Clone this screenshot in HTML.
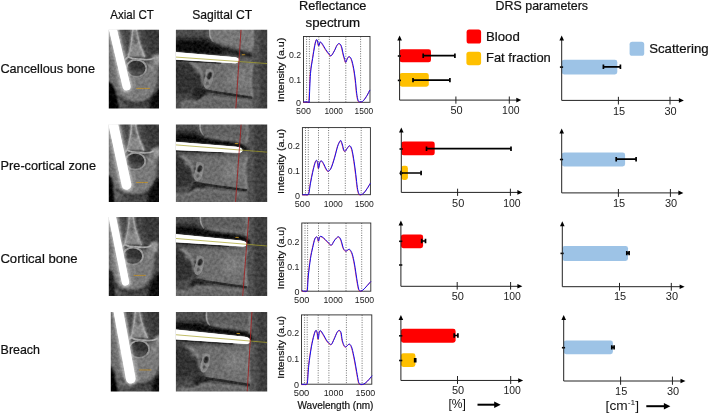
<!DOCTYPE html>
<html lang="en"><head><meta charset="utf-8"><title>DRS parameters figure</title>
<style>
html,body{margin:0;padding:0;background:#fff;}
body{width:709px;height:413px;overflow:hidden;}
svg text{font-family:"Liberation Sans", sans-serif;}
</style></head><body>
<svg width="709" height="413" viewBox="0 0 709 413" style="display:block">

<defs>
<filter id="b05" filterUnits="userSpaceOnUse" x="-40" y="-40" width="180" height="170"><feGaussianBlur stdDeviation="0.5"/></filter>
<filter id="b07" filterUnits="userSpaceOnUse" x="-40" y="-40" width="180" height="170"><feGaussianBlur stdDeviation="0.7"/></filter>
<filter id="b1" filterUnits="userSpaceOnUse" x="-40" y="-40" width="180" height="170"><feGaussianBlur stdDeviation="1"/></filter>
<filter id="b2" filterUnits="userSpaceOnUse" x="-40" y="-40" width="180" height="170"><feGaussianBlur stdDeviation="2"/></filter>
<filter id="b3" filterUnits="userSpaceOnUse" x="-40" y="-40" width="180" height="170"><feGaussianBlur stdDeviation="3.2"/></filter>
<filter id="b5" filterUnits="userSpaceOnUse" x="-40" y="-40" width="180" height="170"><feGaussianBlur stdDeviation="5"/></filter>
<filter id="grain" x="0" y="0" width="100%" height="100%" color-interpolation-filters="sRGB">
  <feTurbulence type="fractalNoise" baseFrequency="0.33" numOctaves="2" seed="7" result="n"/>
  <feColorMatrix in="n" type="matrix" values="1 0 0 0 0  1 0 0 0 0  1 0 0 0 0  0 0 0 0 1" result="ng"/>
  <feComposite in="SourceGraphic" in2="ng" operator="arithmetic" k1="0" k2="1" k3="0.22" k4="-0.11"/>
</filter>
</defs>

<rect width="709" height="413" fill="#ffffff"/>
<text x="0.4" y="73" font-size="13" text-anchor="start" fill="#111" textLength="94.6" lengthAdjust="spacingAndGlyphs" stroke="#111" stroke-width="0.22">Cancellous bone</text>
<text x="0.6" y="169.8" font-size="13" text-anchor="start" fill="#111" textLength="95.4" lengthAdjust="spacingAndGlyphs" stroke="#111" stroke-width="0.22">Pre-cortical zone</text>
<text x="0.4" y="262.5" font-size="13" text-anchor="start" fill="#111" textLength="77.2" lengthAdjust="spacingAndGlyphs" stroke="#111" stroke-width="0.22">Cortical bone</text>
<text x="0.6" y="353.7" font-size="13" text-anchor="start" fill="#111" textLength="39.4" lengthAdjust="spacingAndGlyphs" stroke="#111" stroke-width="0.22">Breach</text>
<text x="110.3" y="18.8" font-size="13" text-anchor="start" fill="#111" textLength="43.5" lengthAdjust="spacingAndGlyphs" stroke="#111" stroke-width="0.22">Axial CT</text>
<text x="192.2" y="18.8" font-size="13" text-anchor="start" fill="#111" textLength="60" lengthAdjust="spacingAndGlyphs" stroke="#111" stroke-width="0.22">Sagittal CT</text>
<text x="299.0" y="10.3" font-size="13" text-anchor="start" fill="#111" textLength="67.4" lengthAdjust="spacingAndGlyphs" stroke="#111" stroke-width="0.22">Reflectance</text>
<text x="305.5" y="27.3" font-size="13" text-anchor="start" fill="#111" textLength="54.6" lengthAdjust="spacingAndGlyphs" stroke="#111" stroke-width="0.22">spectrum</text>
<text x="495.6" y="10.3" font-size="13" text-anchor="start" fill="#111" textLength="92.4" lengthAdjust="spacingAndGlyphs" stroke="#111" stroke-width="0.22">DRS parameters</text>
<rect x="466.6" y="29.6" width="14.5" height="14" rx="2.6" fill="#ff0000"/>
<rect x="466.4" y="51.8" width="14.7" height="13.4" rx="2.6" fill="#ffc000"/>
<rect x="629.6" y="41.7" width="14.6" height="14.1" rx="2.6" fill="#9dc3e6"/>
<text x="486.0" y="40.5" font-size="13" text-anchor="start" fill="#111" textLength="33.8" lengthAdjust="spacingAndGlyphs" stroke="#111" stroke-width="0.22">Blood</text>
<text x="486.0" y="62.3" font-size="13" text-anchor="start" fill="#111" textLength="64.8" lengthAdjust="spacingAndGlyphs" stroke="#111" stroke-width="0.22">Fat fraction</text>
<text x="649.2" y="53.1" font-size="13" text-anchor="start" fill="#111" textLength="59.4" lengthAdjust="spacingAndGlyphs" stroke="#111" stroke-width="0.22">Scattering</text>
<text x="448.4" y="408.3" font-size="13" text-anchor="start" fill="#111" textLength="17.4" lengthAdjust="spacingAndGlyphs" >[%]</text>
<text x="605.6" y="409.6" font-size="13" text-anchor="start" fill="#111" textLength="33.4" lengthAdjust="spacingAndGlyphs" >[cm<tspan font-size="8" dy="-4.5">-1</tspan><tspan dy="4.5">]</tspan></text>
<path d="M477.5 404.7 H495.7" stroke="#000" stroke-width="2" fill="none"/><path d="M500.7 404.7 L494.2 401.5 L494.2 407.9Z" fill="#000"/>
<path d="M646.3 406.2 H665.4" stroke="#000" stroke-width="2" fill="none"/><path d="M670.4 406.2 L663.9 403.0 L663.9 409.4Z" fill="#000"/>
<svg x="108.8" y="29.7" width="50.2" height="78.9" viewBox="0 0 50 79" preserveAspectRatio="none" overflow="hidden">
<g filter="url(#grain)">
<rect x="-5" y="-5" width="60" height="89" fill="#484848"/>
<g transform="translate(0 0)">
<path d="M34 -6 L58 -6 L58 23 L42 25Z" fill="#383838" filter="url(#b2)"/>
<path d="M-6 50 L56 50 L56 86 L-6 86Z" fill="#464646" filter="url(#b2)"/>
<path d="M-6 16 L5 14 L14 60 L19 74 L9 78 L-6 56Z" fill="#6c6c6c" filter="url(#b2)"/>
<path d="M7 36 C6 58 12 72 28 72.5 C42 72 49 60 49 40 L52 24 L44 26 L40 34 C38 50 18 50 16 36Z" fill="#7a7a7a" filter="url(#b1)"/>
<path d="M9 66 C15 78 41 78 47.5 63" stroke="#343434" stroke-width="3.2" fill="none" filter="url(#b1)"/>
<path d="M45 26 L52 24 L52 34 L46 34Z" fill="#9a9a9a" filter="url(#b1)"/>
<path d="M24.5 -3 L20 26 L35.5 27 L27 -3Z" fill="#626262" filter="url(#b05)"/>
<path d="M22.5 14 L31 14 L36 27 L19.5 27Z" fill="#888888" filter="url(#b1)"/>
<path d="M24 -3 Q23 16 19.4 26.5 M27.2 -3 Q29.5 16 35.9 27.5" stroke="#a8a8a8" stroke-width="2.1" fill="none" filter="url(#b1)"/>
<path d="M24 -3 Q23 16 19.4 26.5 M27.2 -3 Q29.5 16 35.9 27.5" stroke="#a4a4a4" stroke-width="1.1" fill="none" filter="url(#b05)"/>
<path d="M19 27 Q24 30 31.5 29.5 Q41 31 46 28" stroke="#aaaaaa" stroke-width="1.8" fill="none" filter="url(#b07)"/>
<path d="M19.5 27 L13 33" stroke="#a8a8a8" stroke-width="1.8" fill="none" filter="url(#b05)"/>
<ellipse cx="27.4" cy="38.5" rx="10" ry="8.4" fill="#303030" stroke="#9a9a9a" stroke-width="1.8" filter="url(#b07)"/>
<ellipse cx="27.4" cy="43" rx="7" ry="3" fill="#505050" filter="url(#b1)"/>
<path d="M37 33 L45 41" stroke="#9c9c9c" stroke-width="1.4" fill="none" filter="url(#b1)"/>
</g>
<path d="M-3 51 L2.5 53.5 L6.5 61 L8.5 70 L11 82 L-3 82Z" fill="#060606" filter="url(#b1)"/>
<path d="M53 57 L43 68 L39 82 L53 82Z" fill="#0c0c0c" filter="url(#b1)"/>
<path d="M2.77 -6 L17.7 56.80" stroke="#b0b0b0" stroke-width="14.0" stroke-linecap="round" filter="url(#b2)" opacity="0.45"/>
<path d="M2.77 -6 L17.7 56.80" stroke="#c8c8c8" stroke-width="10.5" stroke-linecap="round" filter="url(#b1)" opacity="0.85"/>
<path d="M27.4 58.8 H40.9" stroke="#c08c1c" stroke-width="0.75"/>
</g>
<path d="M2.77 -6 L17.7 56.80" stroke="#fff" stroke-width="8.0" stroke-linecap="round" filter="url(#b05)"/>
<path d="M2.77 -6 L17.7 56.80" stroke="#fff" stroke-width="7.2" stroke-linecap="round"/>
</svg>
<svg x="175.9" y="29.7" width="91.3" height="78.9" viewBox="0 0 91.4 79" preserveAspectRatio="none" overflow="hidden">
<g filter="url(#grain)">
<rect x="-5" y="-5" width="101" height="89" fill="#4c4c4c"/>
<rect x="77.5" y="-6" width="40" height="92" fill="#3e3e3e" filter="url(#b1)"/>
<rect x="77.5" y="-6" width="6" height="92" fill="#565656" filter="url(#b2)"/>
<g transform="translate(0 0)">
<path d="M33.5 -8 L33.5 8 L37.5 12.5 L76 22.5 L77.5 10 L77 -8Z" fill="#787878" filter="url(#b1)"/>
<path d="M34.5 -4 Q32.2 7 37.5 12.2" stroke="#9c9c9c" stroke-width="1.5" fill="none" filter="url(#b05)"/>
<path d="M76.6 -6 L77.0 12 L76 21" stroke="#929292" stroke-width="1.8" fill="none" filter="url(#b1)"/>
<path d="M36 14.5 L76 24 L78 28.5 L64 27.5 L36 20Z" fill="#282828" filter="url(#b1)"/>
<path d="M62 26.5 L79 28 L79 36 L62 35Z" fill="#5c5c5c" filter="url(#b1)"/>
<path d="M-30 9.5 L28 9 L40 15 L48 21 L46 27 L-30 24Z" fill="#101010" filter="url(#b2)"/>
<path d="M-30 33 L16 33 L20 44 L29 46 L28 60 L10 66 L-30 66Z" fill="#303030" filter="url(#b2)"/>
<path d="M16 32 L37 32 L37 43 L29 45 L19 42Z" fill="#666666" filter="url(#b1)"/>
<path d="M13 32.5 Q22 35.5 25.5 43 L27.8 55" stroke="#949494" stroke-width="2" fill="none" filter="url(#b1)"/>
<path d="M30 32 L76.5 33 L74.2 48 L76.8 67.5 L29 60 L36 52 L34 38Z" fill="#6e6e6e" filter="url(#b1)"/>
<path d="M76.1 34 Q73.4 48 76.6 67" stroke="#969696" stroke-width="1.8" fill="none" filter="url(#b1)"/>
<ellipse cx="62" cy="49" rx="11" ry="11" fill="#808080" filter="url(#b3)" opacity="0.8"/>
<path d="M30 40 Q35 38 38 42 L37 50 Q35 58 31 59 Q27 58 27.5 52 L29.5 46Z" fill="#888888" filter="url(#b07)"/>
<ellipse cx="33.6" cy="46.1" rx="2.2" ry="3.7" fill="#2a2a2a" transform="rotate(18 33.6 46.1)" filter="url(#b05)"/>
<ellipse cx="31.5" cy="53.5" rx="1.4" ry="1.9" fill="#545454" transform="rotate(18 31.5 53.5)" filter="url(#b05)"/>
<ellipse cx="24.0" cy="64.5" rx="7.5" ry="6" fill="#222222" filter="url(#b1)"/>
<path d="M27 60.6 L76.5 68.2" stroke="#2a2a2a" stroke-width="2.4" fill="none" filter="url(#b05)"/>
<path d="M4 72 L22 72 L30 66 L77 71 L77 95 L4 95Z" fill="#666666" filter="url(#b1)"/>
<path d="M6 72 L22 72.5 L30 67 L76 71.5" stroke="#888888" stroke-width="1.4" fill="none" filter="url(#b1)"/>
</g>
<path d="M-3 30.400000000000002 L45.4 33.1" stroke="#101010" stroke-width="1.8" filter="url(#b05)" fill="none"/>
<path d="M66 25.1 h3.4" stroke="#c09020" stroke-width="0.9"/>
</g>
<path d="M-2 22.3 L59.4 27.5 Q62.9 28.1 63.4 30.3 Q62.6 33.3 59.4 33.5 L-2 29.8Z" fill="#d8d8d8" filter="url(#b1)" opacity="0.6"/>
<path d="M-2 22.3 L59.4 27.5 Q62.9 28.1 63.4 30.3 Q62.6 33.3 59.4 33.5 L-2 29.8Z" fill="#fff" filter="url(#b05)"/>
<path d="M-2 22.3 L59.4 27.5 Q62.9 28.1 63.4 30.3 Q62.6 33.3 59.4 33.5 L-2 29.8Z" fill="#fff"/>
<path d="M0 27.4 L91.5 33.9" stroke="#aaa42c" stroke-width="0.8" opacity="0.9"/>
<path d="M65.2 0 L60.0 79" stroke="#a31c1c" stroke-width="0.8"/>
</svg>
<svg x="108.8" y="124.4" width="50.2" height="77.5" viewBox="0 0 50 79" preserveAspectRatio="none" overflow="hidden">
<g filter="url(#grain)">
<rect x="-5" y="-5" width="60" height="89" fill="#484848"/>
<g transform="translate(-1 -1)">
<path d="M34 -6 L58 -6 L58 23 L42 25Z" fill="#383838" filter="url(#b2)"/>
<path d="M-6 50 L56 50 L56 86 L-6 86Z" fill="#464646" filter="url(#b2)"/>
<path d="M-6 16 L5 14 L14 60 L19 74 L9 78 L-6 56Z" fill="#6c6c6c" filter="url(#b2)"/>
<path d="M7 36 C6 58 12 72 28 72.5 C42 72 49 60 49 40 L52 24 L44 26 L40 34 C38 50 18 50 16 36Z" fill="#7a7a7a" filter="url(#b1)"/>
<path d="M9 66 C15 78 41 78 47.5 63" stroke="#343434" stroke-width="3.2" fill="none" filter="url(#b1)"/>
<path d="M45 26 L52 24 L52 34 L46 34Z" fill="#9a9a9a" filter="url(#b1)"/>
<path d="M24.5 -3 L20 26 L35.5 27 L27 -3Z" fill="#626262" filter="url(#b05)"/>
<path d="M22.5 14 L31 14 L36 27 L19.5 27Z" fill="#888888" filter="url(#b1)"/>
<path d="M24 -3 Q23 16 19.4 26.5 M27.2 -3 Q29.5 16 35.9 27.5" stroke="#a8a8a8" stroke-width="2.1" fill="none" filter="url(#b1)"/>
<path d="M24 -3 Q23 16 19.4 26.5 M27.2 -3 Q29.5 16 35.9 27.5" stroke="#a4a4a4" stroke-width="1.1" fill="none" filter="url(#b05)"/>
<path d="M19 27 Q24 30 31.5 29.5 Q41 31 46 28" stroke="#aaaaaa" stroke-width="1.8" fill="none" filter="url(#b07)"/>
<path d="M19.5 27 L13 33" stroke="#a8a8a8" stroke-width="1.8" fill="none" filter="url(#b05)"/>
<ellipse cx="27.4" cy="38.5" rx="10" ry="8.4" fill="#303030" stroke="#9a9a9a" stroke-width="1.8" filter="url(#b07)"/>
<ellipse cx="27.4" cy="43" rx="7" ry="3" fill="#505050" filter="url(#b1)"/>
<path d="M37 33 L45 41" stroke="#9c9c9c" stroke-width="1.4" fill="none" filter="url(#b1)"/>
</g>
<path d="M-3 51 L2 53 L4.5 63 L5 82 L-3 82Z" fill="#060606" filter="url(#b1)"/>
<path d="M53 52 L47 57 L41 67 L37.5 82 L53 82Z" fill="#0c0c0c" filter="url(#b1)"/>
<path d="M3.22 -6 L17.7 61.80" stroke="#b0b0b0" stroke-width="15.6" stroke-linecap="round" filter="url(#b2)" opacity="0.45"/>
<path d="M3.22 -6 L17.7 61.80" stroke="#c8c8c8" stroke-width="12.1" stroke-linecap="round" filter="url(#b1)" opacity="0.85"/>
<path d="M27.2 59.2 H38.9" stroke="#c08c1c" stroke-width="0.75"/>
</g>
<path d="M3.22 -6 L17.7 61.80" stroke="#fff" stroke-width="9.6" stroke-linecap="round" filter="url(#b05)"/>
<path d="M3.22 -6 L17.7 61.80" stroke="#fff" stroke-width="8.799999999999999" stroke-linecap="round"/>
</svg>
<svg x="175.9" y="124.4" width="91.3" height="77.5" viewBox="0 0 91.4 79" preserveAspectRatio="none" overflow="hidden">
<g filter="url(#grain)">
<rect x="-5" y="-5" width="101" height="89" fill="#4c4c4c"/>
<rect x="72.0" y="-6" width="40" height="92" fill="#3e3e3e" filter="url(#b1)"/>
<rect x="72.0" y="-6" width="6" height="92" fill="#565656" filter="url(#b2)"/>
<g transform="translate(-9.7 -0.9)">
<path d="M33.5 -8 L33.5 8 L37.5 12.5 L80.2 22.5 L81.7 10 L81.2 -8Z" fill="#626262" filter="url(#b1)"/>
<path d="M34.5 -4 Q32.2 7 37.5 12.2" stroke="#9c9c9c" stroke-width="1.5" fill="none" filter="url(#b05)"/>
<path d="M80.8 -6 L81.2 12 L80.2 21" stroke="#929292" stroke-width="1.8" fill="none" filter="url(#b1)"/>
<path d="M36 14.5 L80.2 24 L82.2 28.5 L68.2 27.5 L36 20Z" fill="#282828" filter="url(#b1)"/>
<path d="M66.2 26.5 L83.2 28 L83.2 36 L66.2 35Z" fill="#5c5c5c" filter="url(#b1)"/>
<path d="M-30 9.5 L28 9 L40 15 L48 21 L46 27 L-30 24Z" fill="#101010" filter="url(#b2)"/>
<path d="M-30 33 L16 33 L20 44 L29 46 L28 60 L10 66 L-30 66Z" fill="#303030" filter="url(#b2)"/>
<path d="M16 32 L37 32 L37 43 L29 45 L19 42Z" fill="#666666" filter="url(#b1)"/>
<path d="M13 32.5 Q22 35.5 25.5 43 L27.8 55" stroke="#949494" stroke-width="2" fill="none" filter="url(#b1)"/>
<path d="M30 32 L80.7 33 L78.4 48 L81.0 67.5 L29 60 L36 52 L34 38Z" fill="#6e6e6e" filter="url(#b1)"/>
<path d="M80.3 34 Q77.60000000000001 48 80.8 67" stroke="#969696" stroke-width="1.8" fill="none" filter="url(#b1)"/>
<ellipse cx="66.2" cy="49" rx="11" ry="11" fill="#808080" filter="url(#b3)" opacity="0.8"/>
<path d="M30 40 Q35 38 38 42 L37 50 Q35 58 31 59 Q27 58 27.5 52 L29.5 46Z" fill="#888888" filter="url(#b07)"/>
<ellipse cx="33.6" cy="46.1" rx="2.2" ry="3.7" fill="#2a2a2a" transform="rotate(18 33.6 46.1)" filter="url(#b05)"/>
<ellipse cx="31.5" cy="53.5" rx="1.4" ry="1.9" fill="#545454" transform="rotate(18 31.5 53.5)" filter="url(#b05)"/>
<ellipse cx="31.9" cy="66.9" rx="7.5" ry="6" fill="#222222" filter="url(#b1)"/>
<path d="M27 60.6 L80.7 68.2" stroke="#2a2a2a" stroke-width="2.4" fill="none" filter="url(#b05)"/>
<path d="M4 72 L22 72 L30 66 L81.2 71 L81.2 95 L4 95Z" fill="#666666" filter="url(#b1)"/>
<path d="M6 72 L22 72.5 L30 67 L80.2 71.5" stroke="#888888" stroke-width="1.4" fill="none" filter="url(#b1)"/>
</g>
<path d="M-3 13.2 L52.3 17.799999999999997 Q67.7 18.299999999999997 70.2 25.6 L66.7 27.1 L60.3 23.9 L-3 18.7Z" fill="#0c0c0c" filter="url(#b1)"/>
<path d="M28.299999999999997 11.799999999999997 L70.5 17.099999999999998" stroke="#747474" stroke-width="2.2" fill="none" filter="url(#b1)"/>
<path d="M-3 26.6 L48 28.6" stroke="#101010" stroke-width="1.8" filter="url(#b05)" fill="none"/>
<path d="M59 19.6 h3.4" stroke="#c09020" stroke-width="0.9"/>
</g>
<path d="M-2 17.7 L60.3 22.9 Q66.2 23.5 66.7 26.6 Q65.9 28.8 62 29.0 L-2 26.0Z" fill="#d8d8d8" filter="url(#b1)" opacity="0.6"/>
<path d="M-2 17.7 L60.3 22.9 Q66.2 23.5 66.7 26.6 Q65.9 28.8 62 29.0 L-2 26.0Z" fill="#fff" filter="url(#b05)"/>
<path d="M-2 17.7 L60.3 22.9 Q66.2 23.5 66.7 26.6 Q65.9 28.8 62 29.0 L-2 26.0Z" fill="#fff"/>
<path d="M0 20.9 L91.5 28.3" stroke="#aaa42c" stroke-width="0.8" opacity="0.9"/>
<path d="M65.3 0 L59.7 79" stroke="#a31c1c" stroke-width="0.8"/>
</svg>
<svg x="108.8" y="216.9" width="50.2" height="79.0" viewBox="0 0 50 79" preserveAspectRatio="none" overflow="hidden">
<g filter="url(#grain)">
<rect x="-5" y="-5" width="60" height="89" fill="#484848"/>
<g transform="translate(-3.4 0.5)">
<path d="M34 -6 L58 -6 L58 23 L42 25Z" fill="#383838" filter="url(#b2)"/>
<path d="M-6 50 L56 50 L56 86 L-6 86Z" fill="#464646" filter="url(#b2)"/>
<path d="M-6 16 L5 14 L14 60 L19 74 L9 78 L-6 56Z" fill="#6c6c6c" filter="url(#b2)"/>
<path d="M7 36 C6 58 12 72 28 72.5 C42 72 49 60 49 40 L52 24 L44 26 L40 34 C38 50 18 50 16 36Z" fill="#7a7a7a" filter="url(#b1)"/>
<path d="M9 66 C15 78 41 78 47.5 63" stroke="#343434" stroke-width="3.2" fill="none" filter="url(#b1)"/>
<path d="M45 26 L52 24 L52 34 L46 34Z" fill="#9a9a9a" filter="url(#b1)"/>
<path d="M24.5 -3 L20 26 L35.5 27 L27 -3Z" fill="#626262" filter="url(#b05)"/>
<path d="M22.5 14 L31 14 L36 27 L19.5 27Z" fill="#888888" filter="url(#b1)"/>
<path d="M24 -3 Q23 16 19.4 26.5 M27.2 -3 Q29.5 16 35.9 27.5" stroke="#a8a8a8" stroke-width="2.1" fill="none" filter="url(#b1)"/>
<path d="M24 -3 Q23 16 19.4 26.5 M27.2 -3 Q29.5 16 35.9 27.5" stroke="#a4a4a4" stroke-width="1.1" fill="none" filter="url(#b05)"/>
<path d="M19 27 Q24 30 31.5 29.5 Q41 31 46 28" stroke="#aaaaaa" stroke-width="1.8" fill="none" filter="url(#b07)"/>
<path d="M19.5 27 L13 33" stroke="#a8a8a8" stroke-width="1.8" fill="none" filter="url(#b05)"/>
<ellipse cx="27.4" cy="38.5" rx="10" ry="8.4" fill="#303030" stroke="#9a9a9a" stroke-width="1.8" filter="url(#b07)"/>
<ellipse cx="27.4" cy="43" rx="7" ry="3" fill="#505050" filter="url(#b1)"/>
<path d="M37 33 L45 41" stroke="#9c9c9c" stroke-width="1.4" fill="none" filter="url(#b1)"/>
</g>
<path d="M-3 52 L3 54 L5.5 64 L7 82 L-3 82Z" fill="#1c1c1c" filter="url(#b1)"/>
<path d="M53 53 L48 57 L43 63.5 L38 82 L53 82Z" fill="#0c0c0c" filter="url(#b1)"/>
<path d="M2.29 -6 L16.6 65.00" stroke="#b0b0b0" stroke-width="13.4" stroke-linecap="round" filter="url(#b2)" opacity="0.45"/>
<path d="M2.29 -6 L16.6 65.00" stroke="#c8c8c8" stroke-width="9.9" stroke-linecap="round" filter="url(#b1)" opacity="0.85"/>
<path d="M24.7 58.5 H36.8" stroke="#c08c1c" stroke-width="0.75"/>
</g>
<path d="M2.29 -6 L16.6 65.00" stroke="#fff" stroke-width="7.4" stroke-linecap="round" filter="url(#b05)"/>
<path d="M2.29 -6 L16.6 65.00" stroke="#fff" stroke-width="6.6000000000000005" stroke-linecap="round"/>
</svg>
<svg x="175.9" y="216.9" width="91.3" height="79.0" viewBox="0 0 91.4 79" preserveAspectRatio="none" overflow="hidden">
<g filter="url(#grain)">
<rect x="-5" y="-5" width="101" height="89" fill="#4c4c4c"/>
<rect x="72.0" y="-6" width="40" height="92" fill="#3e3e3e" filter="url(#b1)"/>
<rect x="72.0" y="-6" width="6" height="92" fill="#565656" filter="url(#b2)"/>
<g transform="translate(-9.3 -0.7)">
<path d="M33.5 -8 L33.5 8 L37.5 12.5 L79.8 22.5 L81.3 10 L80.8 -8Z" fill="#5e5e5e" filter="url(#b1)"/>
<path d="M34.5 -4 Q32.2 7 37.5 12.2" stroke="#9c9c9c" stroke-width="1.5" fill="none" filter="url(#b05)"/>
<path d="M80.39999999999999 -6 L80.8 12 L79.8 21" stroke="#929292" stroke-width="1.8" fill="none" filter="url(#b1)"/>
<path d="M36 14.5 L79.8 24 L81.8 28.5 L67.8 27.5 L36 20Z" fill="#282828" filter="url(#b1)"/>
<path d="M65.8 26.5 L82.8 28 L82.8 36 L65.8 35Z" fill="#5c5c5c" filter="url(#b1)"/>
<path d="M-30 9.5 L28 9 L40 15 L48 21 L46 27 L-30 24Z" fill="#101010" filter="url(#b2)"/>
<path d="M-30 33 L16 33 L20 44 L29 46 L28 60 L10 66 L-30 66Z" fill="#303030" filter="url(#b2)"/>
<path d="M16 32 L37 32 L37 43 L29 45 L19 42Z" fill="#666666" filter="url(#b1)"/>
<path d="M13 32.5 Q22 35.5 25.5 43 L27.8 55" stroke="#949494" stroke-width="2" fill="none" filter="url(#b1)"/>
<path d="M30 32 L80.3 33 L78.0 48 L80.6 70.5 L29 63 L36 52 L34 38Z" fill="#6e6e6e" filter="url(#b1)"/>
<path d="M79.89999999999999 34 Q77.2 48 80.39999999999999 70" stroke="#969696" stroke-width="1.8" fill="none" filter="url(#b1)"/>
<ellipse cx="65.8" cy="49" rx="11" ry="11" fill="#808080" filter="url(#b3)" opacity="0.8"/>
<path d="M30 40 Q35 38 38 42 L37 50 Q35 58 31 59 Q27 58 27.5 52 L29.5 46Z" fill="#888888" filter="url(#b07)"/>
<ellipse cx="33.6" cy="46.1" rx="2.2" ry="3.7" fill="#2a2a2a" transform="rotate(18 33.6 46.1)" filter="url(#b05)"/>
<ellipse cx="31.5" cy="53.5" rx="1.4" ry="1.9" fill="#545454" transform="rotate(18 31.5 53.5)" filter="url(#b05)"/>
<ellipse cx="31.5" cy="68.5" rx="7.5" ry="6" fill="#222222" filter="url(#b1)"/>
<path d="M27 63.6 L80.3 71.2" stroke="#2a2a2a" stroke-width="2.4" fill="none" filter="url(#b05)"/>
<path d="M4 75 L22 75 L30 69 L80.8 74 L80.8 95 L4 95Z" fill="#666666" filter="url(#b1)"/>
<path d="M6 75 L22 75.5 L30 70 L79.8 74.5" stroke="#888888" stroke-width="1.4" fill="none" filter="url(#b1)"/>
</g>
<path d="M-3 11.0 L56.5 17.0 Q72.2 17.5 74.7 26 L71.2 27.5 L64.5 24.5 L-3 18.0Z" fill="#0c0c0c" filter="url(#b1)"/>
<path d="M32.5 11.0 L70.5 16.3" stroke="#747474" stroke-width="2.2" fill="none" filter="url(#b1)"/>
<path d="M-3 25.8 L53.099999999999994 29.3" stroke="#101010" stroke-width="1.8" filter="url(#b05)" fill="none"/>
<path d="M59.5 20.5 h3.4" stroke="#c09020" stroke-width="0.9"/>
</g>
<path d="M-2 17.0 L64.5 23.5 Q70.7 24.1 71.2 27 Q70.4 29.5 67.1 29.7 L-2 25.2Z" fill="#d8d8d8" filter="url(#b1)" opacity="0.6"/>
<path d="M-2 17.0 L64.5 23.5 Q70.7 24.1 71.2 27 Q70.4 29.5 67.1 29.7 L-2 25.2Z" fill="#fff" filter="url(#b05)"/>
<path d="M-2 17.0 L64.5 23.5 Q70.7 24.1 71.2 27 Q70.4 29.5 67.1 29.7 L-2 25.2Z" fill="#fff"/>
<path d="M0 21.6 L91.5 29.1" stroke="#aaa42c" stroke-width="0.8" opacity="0.9"/>
<path d="M73 0 L66.9 79" stroke="#a31c1c" stroke-width="0.8"/>
</svg>
<svg x="110.8" y="311.9" width="48.3" height="79.5" viewBox="0 0 47.9 79" preserveAspectRatio="none" overflow="hidden">
<g filter="url(#grain)">
<rect x="-5" y="-5" width="60" height="89" fill="#484848"/>
<g transform="translate(0.6 -1.5)">
<path d="M34 -6 L58 -6 L58 23 L42 25Z" fill="#383838" filter="url(#b2)"/>
<path d="M-6 50 L56 50 L56 86 L-6 86Z" fill="#464646" filter="url(#b2)"/>
<path d="M-6 16 L5 14 L14 60 L19 74 L9 78 L-6 56Z" fill="#6c6c6c" filter="url(#b2)"/>
<path d="M7 36 C6 58 12 72 28 72.5 C42 72 49 60 49 40 L52 24 L44 26 L40 34 C38 50 18 50 16 36Z" fill="#7a7a7a" filter="url(#b1)"/>
<path d="M9 66 C15 78 41 78 47.5 63" stroke="#343434" stroke-width="3.2" fill="none" filter="url(#b1)"/>
<path d="M45 26 L52 24 L52 34 L46 34Z" fill="#9a9a9a" filter="url(#b1)"/>
<path d="M24.5 -3 L20 26 L35.5 27 L27 -3Z" fill="#626262" filter="url(#b05)"/>
<path d="M22.5 14 L31 14 L36 27 L19.5 27Z" fill="#888888" filter="url(#b1)"/>
<path d="M24 -3 Q23 16 19.4 26.5 M27.2 -3 Q29.5 16 35.9 27.5" stroke="#a8a8a8" stroke-width="2.1" fill="none" filter="url(#b1)"/>
<path d="M24 -3 Q23 16 19.4 26.5 M27.2 -3 Q29.5 16 35.9 27.5" stroke="#a4a4a4" stroke-width="1.1" fill="none" filter="url(#b05)"/>
<path d="M19 27 Q24 30 31.5 29.5 Q41 31 46 28" stroke="#aaaaaa" stroke-width="1.8" fill="none" filter="url(#b07)"/>
<path d="M19.5 27 L13 33" stroke="#a8a8a8" stroke-width="1.8" fill="none" filter="url(#b05)"/>
<ellipse cx="27.4" cy="38.5" rx="10" ry="8.4" fill="#303030" stroke="#9a9a9a" stroke-width="1.8" filter="url(#b07)"/>
<ellipse cx="27.4" cy="43" rx="7" ry="3" fill="#505050" filter="url(#b1)"/>
<path d="M37 33 L45 41" stroke="#9c9c9c" stroke-width="1.4" fill="none" filter="url(#b1)"/>
</g>
<path d="M-3 53 L1 55 L4 62 L5 71 L8 82 L-3 82Z" fill="#060606" filter="url(#b1)"/>
<path d="M53 58 L45 65 L41.5 73 L40 82 L53 82Z" fill="#0c0c0c" filter="url(#b1)"/>
<path d="M6.50 -6 L19.8 66.40" stroke="#b0b0b0" stroke-width="15.6" stroke-linecap="round" filter="url(#b2)" opacity="0.45"/>
<path d="M6.50 -6 L19.8 66.40" stroke="#c8c8c8" stroke-width="12.1" stroke-linecap="round" filter="url(#b1)" opacity="0.85"/>
<path d="M28.1 57.7 H40.2" stroke="#c08c1c" stroke-width="0.75"/>
</g>
<path d="M6.50 -6 L19.8 66.40" stroke="#fff" stroke-width="9.6" stroke-linecap="round" filter="url(#b05)"/>
<path d="M6.50 -6 L19.8 66.40" stroke="#fff" stroke-width="8.799999999999999" stroke-linecap="round"/>
</svg>
<svg x="175.9" y="311.9" width="91.3" height="79.5" viewBox="0 0 91.4 79" preserveAspectRatio="none" overflow="hidden">
<g filter="url(#grain)">
<rect x="-5" y="-5" width="101" height="89" fill="#4c4c4c"/>
<rect x="75.0" y="-6" width="40" height="92" fill="#3e3e3e" filter="url(#b1)"/>
<rect x="75.0" y="-6" width="6" height="92" fill="#565656" filter="url(#b2)"/>
<g transform="translate(-3.3 1.4)">
<path d="M33.5 -8 L33.5 8 L37.5 12.5 L76.8 22.5 L78.3 10 L77.8 -8Z" fill="#5e5e5e" filter="url(#b1)"/>
<path d="M34.5 -4 Q32.2 7 37.5 12.2" stroke="#9c9c9c" stroke-width="1.5" fill="none" filter="url(#b05)"/>
<path d="M77.39999999999999 -6 L77.8 12 L76.8 21" stroke="#929292" stroke-width="1.8" fill="none" filter="url(#b1)"/>
<path d="M36 14.5 L76.8 24 L78.8 28.5 L64.8 27.5 L36 20Z" fill="#282828" filter="url(#b1)"/>
<path d="M62.8 26.5 L79.8 28 L79.8 36 L62.8 35Z" fill="#5c5c5c" filter="url(#b1)"/>
<path d="M-30 9.5 L28 9 L40 15 L48 21 L46 27 L-30 24Z" fill="#101010" filter="url(#b2)"/>
<path d="M-30 33 L16 33 L20 44 L29 46 L28 60 L10 66 L-30 66Z" fill="#303030" filter="url(#b2)"/>
<path d="M16 32 L37 32 L37 43 L29 45 L19 42Z" fill="#666666" filter="url(#b1)"/>
<path d="M13 32.5 Q22 35.5 25.5 43 L27.8 55" stroke="#949494" stroke-width="2" fill="none" filter="url(#b1)"/>
<path d="M30 32 L77.3 33 L75.0 48 L77.6 70.5 L29 63 L36 52 L34 38Z" fill="#6e6e6e" filter="url(#b1)"/>
<path d="M76.89999999999999 34 Q74.2 48 77.39999999999999 70" stroke="#969696" stroke-width="1.8" fill="none" filter="url(#b1)"/>
<ellipse cx="62.8" cy="49" rx="11" ry="11" fill="#808080" filter="url(#b3)" opacity="0.8"/>
<path d="M30 40 Q35 38 38 42 L37 50 Q35 58 31 59 Q27 58 27.5 52 L29.5 46Z" fill="#888888" filter="url(#b07)"/>
<ellipse cx="33.6" cy="46.1" rx="2.2" ry="3.7" fill="#2a2a2a" transform="rotate(18 33.6 46.1)" filter="url(#b05)"/>
<ellipse cx="31.5" cy="53.5" rx="1.4" ry="1.9" fill="#545454" transform="rotate(18 31.5 53.5)" filter="url(#b05)"/>
<ellipse cx="28.2" cy="67.5" rx="7.5" ry="6" fill="#222222" filter="url(#b1)"/>
<path d="M27 63.6 L77.3 71.2" stroke="#2a2a2a" stroke-width="2.4" fill="none" filter="url(#b05)"/>
<path d="M4 75 L22 75 L30 69 L77.8 74 L77.8 95 L4 95Z" fill="#666666" filter="url(#b1)"/>
<path d="M6 75 L22 75.5 L30 70 L76.8 74.5" stroke="#888888" stroke-width="1.4" fill="none" filter="url(#b1)"/>
</g>
<path d="M-3 11.3 L60.8 18.3 Q75.6 18.8 78.1 27.9 L74.6 29.4 L68.8 25.8 L-3 18.3Z" fill="#0c0c0c" filter="url(#b1)"/>
<path d="M36.8 12.3 L73.5 17.6" stroke="#747474" stroke-width="2.2" fill="none" filter="url(#b1)"/>
<path d="M-3 27.700000000000003 L57.3 31.5" stroke="#101010" stroke-width="1.8" filter="url(#b05)" fill="none"/>
<path d="M60.7 21.5 h3.4" stroke="#c09020" stroke-width="0.9"/>
</g>
<path d="M-2 17.3 L68.8 24.8 Q74.1 25.400000000000002 74.6 28.9 Q73.8 31.7 71.3 31.9 L-2 27.1Z" fill="#d8d8d8" filter="url(#b1)" opacity="0.6"/>
<path d="M-2 17.3 L68.8 24.8 Q74.1 25.400000000000002 74.6 28.9 Q73.8 31.7 71.3 31.9 L-2 27.1Z" fill="#fff" filter="url(#b05)"/>
<path d="M-2 17.3 L68.8 24.8 Q74.1 25.400000000000002 74.6 28.9 Q73.8 31.7 71.3 31.9 L-2 27.1Z" fill="#fff"/>
<path d="M0 22.7 L91.5 30.4" stroke="#aaa42c" stroke-width="0.8" opacity="0.9"/>
<path d="M76.1 0 L71.4 79" stroke="#a31c1c" stroke-width="0.8"/>
</svg>
<rect x="303.5" y="36.5" width="66.5" height="65.8" fill="#fff" stroke="#2a2a2a" stroke-width="0.9"/>
<path d="M306.6 36.5 V102.3" stroke="#333" stroke-width="0.7" stroke-dasharray="1 1.4" fill="none"/>
<path d="M309.4 36.5 V102.3" stroke="#333" stroke-width="0.7" stroke-dasharray="1 1.4" fill="none"/>
<path d="M318.8 36.5 V102.3" stroke="#333" stroke-width="0.7" stroke-dasharray="1 1.4" fill="none"/>
<path d="M329.4 36.5 V102.3" stroke="#333" stroke-width="0.7" stroke-dasharray="1 1.4" fill="none"/>
<path d="M345.8 36.5 V102.3" stroke="#333" stroke-width="0.7" stroke-dasharray="1 1.4" fill="none"/>
<path d="M360.6 36.5 V102.3" stroke="#333" stroke-width="0.7" stroke-dasharray="1 1.4" fill="none"/>
<path d="M303.31 101.90 C303.78 101.90 305.31 101.90 306.14 101.90 C306.98 101.90 307.81 102.19 308.32 101.90 C308.83 101.60 308.83 104.87 309.19 100.15 C309.56 95.43 309.92 80.54 310.50 73.57 C311.08 66.60 311.95 63.04 312.68 58.32 C313.41 53.60 314.24 48.34 314.86 45.25 C315.48 42.16 315.95 40.53 316.38 39.80 C316.82 39.08 317.07 39.91 317.47 40.89 C317.87 41.87 318.31 45.50 318.78 45.69 C319.25 45.87 319.69 42.24 320.31 41.98 C320.92 41.73 321.58 42.89 322.48 44.16 C323.39 45.43 324.66 47.97 325.75 49.61 C326.84 51.24 328.11 52.95 329.02 53.97 C329.93 54.98 330.29 56.25 331.20 55.71 C332.11 55.16 333.49 52.44 334.47 50.70 C335.45 48.95 336.28 46.45 337.08 45.25 C337.88 44.05 338.53 43.33 339.26 43.51 C339.99 43.69 340.78 44.60 341.44 46.34 C342.09 48.08 342.64 51.79 343.18 53.97 C343.73 56.14 344.27 58.03 344.71 59.41 C345.14 60.79 345.32 62.43 345.80 62.24 C346.27 62.06 346.96 59.27 347.54 58.32 C348.12 57.38 348.63 56.40 349.28 56.58 C349.93 56.76 350.73 57.49 351.46 59.41 C352.19 61.34 352.98 64.68 353.64 68.13 C354.29 71.58 354.87 75.93 355.38 80.11 C355.89 84.28 356.25 89.84 356.69 93.18 C357.12 96.52 357.60 98.74 358.00 100.15 C358.40 101.57 358.72 101.39 359.08 101.68 C359.45 101.97 359.70 101.90 360.17 101.90 C360.65 101.90 361.30 101.97 361.92 101.68 C362.53 101.39 363.01 101.21 363.88 100.15 C364.75 99.10 366.13 97.07 367.15 95.36 C368.16 93.65 369.51 90.82 369.98 89.91" stroke="#ff1010" stroke-width="0.9" fill="none" stroke-linejoin="round" transform="translate(-0.3 0.3)" opacity="0.75"/>
<path d="M303.31 101.90 C303.78 101.90 305.31 101.90 306.14 101.90 C306.98 101.90 307.81 102.19 308.32 101.90 C308.83 101.60 308.83 104.87 309.19 100.15 C309.56 95.43 309.92 80.54 310.50 73.57 C311.08 66.60 311.95 63.04 312.68 58.32 C313.41 53.60 314.24 48.34 314.86 45.25 C315.48 42.16 315.95 40.53 316.38 39.80 C316.82 39.08 317.07 39.91 317.47 40.89 C317.87 41.87 318.31 45.50 318.78 45.69 C319.25 45.87 319.69 42.24 320.31 41.98 C320.92 41.73 321.58 42.89 322.48 44.16 C323.39 45.43 324.66 47.97 325.75 49.61 C326.84 51.24 328.11 52.95 329.02 53.97 C329.93 54.98 330.29 56.25 331.20 55.71 C332.11 55.16 333.49 52.44 334.47 50.70 C335.45 48.95 336.28 46.45 337.08 45.25 C337.88 44.05 338.53 43.33 339.26 43.51 C339.99 43.69 340.78 44.60 341.44 46.34 C342.09 48.08 342.64 51.79 343.18 53.97 C343.73 56.14 344.27 58.03 344.71 59.41 C345.14 60.79 345.32 62.43 345.80 62.24 C346.27 62.06 346.96 59.27 347.54 58.32 C348.12 57.38 348.63 56.40 349.28 56.58 C349.93 56.76 350.73 57.49 351.46 59.41 C352.19 61.34 352.98 64.68 353.64 68.13 C354.29 71.58 354.87 75.93 355.38 80.11 C355.89 84.28 356.25 89.84 356.69 93.18 C357.12 96.52 357.60 98.74 358.00 100.15 C358.40 101.57 358.72 101.39 359.08 101.68 C359.45 101.97 359.70 101.90 360.17 101.90 C360.65 101.90 361.30 101.97 361.92 101.68 C362.53 101.39 363.01 101.21 363.88 100.15 C364.75 99.10 366.13 97.07 367.15 95.36 C368.16 93.65 369.51 90.82 369.98 89.91" stroke="#1010f4" stroke-width="1.0" fill="none" stroke-linejoin="round"/>
<text x="301.1" y="58.1" font-size="9.8" text-anchor="end" fill="#1a1a1a" textLength="12.2" lengthAdjust="spacingAndGlyphs">0.2</text>
<text x="301.1" y="83.1" font-size="9.8" text-anchor="end" fill="#1a1a1a" textLength="12.2" lengthAdjust="spacingAndGlyphs">0.1</text>
<text x="301.1" y="106.2" font-size="9.8" text-anchor="end" fill="#1a1a1a" textLength="5.0" lengthAdjust="spacingAndGlyphs">0</text>
<text x="303.5" y="114.3" font-size="9.8" text-anchor="middle" fill="#1a1a1a" textLength="14.8" lengthAdjust="spacingAndGlyphs">500</text>
<text x="333.7" y="114.3" font-size="9.8" text-anchor="middle" fill="#1a1a1a" textLength="18.6" lengthAdjust="spacingAndGlyphs">1000</text>
<text x="363.9" y="114.3" font-size="9.8" text-anchor="middle" fill="#1a1a1a" textLength="18.6" lengthAdjust="spacingAndGlyphs">1500</text>
<text transform="translate(283.6 102.1) rotate(-90)" font-size="9.8" fill="#111" stroke="#111" stroke-width="0.2" textLength="64.4" lengthAdjust="spacingAndGlyphs">Intensity (a.u)</text>
<rect x="302.4" y="127.6" width="68.0" height="67.1" fill="#fff" stroke="#2a2a2a" stroke-width="0.9"/>
<path d="M305.5 127.6 V194.7" stroke="#333" stroke-width="0.7" stroke-dasharray="1 1.4" fill="none"/>
<path d="M308.3 127.6 V194.7" stroke="#333" stroke-width="0.7" stroke-dasharray="1 1.4" fill="none"/>
<path d="M318.5 127.6 V194.7" stroke="#333" stroke-width="0.7" stroke-dasharray="1 1.4" fill="none"/>
<path d="M328.6 127.6 V194.7" stroke="#333" stroke-width="0.7" stroke-dasharray="1 1.4" fill="none"/>
<path d="M345.3 127.6 V194.7" stroke="#333" stroke-width="0.7" stroke-dasharray="1 1.4" fill="none"/>
<path d="M361.2 127.6 V194.7" stroke="#333" stroke-width="0.7" stroke-dasharray="1 1.4" fill="none"/>
<path d="M302.44 194.73 C302.98 194.73 304.80 194.73 305.71 194.73 C306.62 194.73 307.34 195.02 307.89 194.73 C308.43 194.44 308.54 194.91 308.98 192.98 C309.41 191.06 309.88 186.63 310.50 183.18 C311.12 179.73 311.95 175.56 312.68 172.29 C313.41 169.02 314.24 165.57 314.86 163.57 C315.48 161.58 315.91 160.49 316.38 160.31 C316.86 160.12 317.33 161.14 317.69 162.48 C318.05 163.83 318.20 168.37 318.56 168.37 C318.93 168.37 319.40 163.75 319.87 162.48 C320.34 161.21 320.78 160.56 321.39 160.74 C322.01 160.92 322.77 162.19 323.57 163.57 C324.37 164.95 325.39 167.75 326.19 169.02 C326.99 170.29 327.53 171.38 328.37 171.20 C329.20 171.02 330.18 170.11 331.20 167.93 C332.21 165.75 333.38 161.76 334.47 158.13 C335.56 154.50 336.83 148.94 337.73 146.14 C338.64 143.35 339.37 142.26 339.91 141.35 C340.46 140.44 340.57 140.08 341.00 140.70 C341.44 141.31 342.06 143.49 342.53 145.05 C343.00 146.62 343.36 149.05 343.83 150.07 C344.31 151.08 344.74 151.52 345.36 151.15 C345.98 150.79 346.81 148.79 347.54 147.89 C348.26 146.98 348.99 145.45 349.72 145.71 C350.44 145.96 351.17 146.80 351.90 149.41 C352.62 152.03 353.42 157.22 354.07 161.39 C354.73 165.57 355.27 170.11 355.82 174.47 C356.36 178.82 356.87 184.42 357.34 187.54 C357.81 190.66 358.25 192.04 358.65 193.20 C359.05 194.36 359.27 194.29 359.74 194.51 C360.21 194.73 360.79 194.76 361.48 194.51 C362.17 194.26 362.93 193.97 363.88 192.98 C364.82 192.00 366.06 190.26 367.15 188.63 C368.24 186.99 369.87 184.09 370.41 183.18" stroke="#ff1010" stroke-width="0.9" fill="none" stroke-linejoin="round" transform="translate(-0.3 0.3)" opacity="0.75"/>
<path d="M302.44 194.73 C302.98 194.73 304.80 194.73 305.71 194.73 C306.62 194.73 307.34 195.02 307.89 194.73 C308.43 194.44 308.54 194.91 308.98 192.98 C309.41 191.06 309.88 186.63 310.50 183.18 C311.12 179.73 311.95 175.56 312.68 172.29 C313.41 169.02 314.24 165.57 314.86 163.57 C315.48 161.58 315.91 160.49 316.38 160.31 C316.86 160.12 317.33 161.14 317.69 162.48 C318.05 163.83 318.20 168.37 318.56 168.37 C318.93 168.37 319.40 163.75 319.87 162.48 C320.34 161.21 320.78 160.56 321.39 160.74 C322.01 160.92 322.77 162.19 323.57 163.57 C324.37 164.95 325.39 167.75 326.19 169.02 C326.99 170.29 327.53 171.38 328.37 171.20 C329.20 171.02 330.18 170.11 331.20 167.93 C332.21 165.75 333.38 161.76 334.47 158.13 C335.56 154.50 336.83 148.94 337.73 146.14 C338.64 143.35 339.37 142.26 339.91 141.35 C340.46 140.44 340.57 140.08 341.00 140.70 C341.44 141.31 342.06 143.49 342.53 145.05 C343.00 146.62 343.36 149.05 343.83 150.07 C344.31 151.08 344.74 151.52 345.36 151.15 C345.98 150.79 346.81 148.79 347.54 147.89 C348.26 146.98 348.99 145.45 349.72 145.71 C350.44 145.96 351.17 146.80 351.90 149.41 C352.62 152.03 353.42 157.22 354.07 161.39 C354.73 165.57 355.27 170.11 355.82 174.47 C356.36 178.82 356.87 184.42 357.34 187.54 C357.81 190.66 358.25 192.04 358.65 193.20 C359.05 194.36 359.27 194.29 359.74 194.51 C360.21 194.73 360.79 194.76 361.48 194.51 C362.17 194.26 362.93 193.97 363.88 192.98 C364.82 192.00 366.06 190.26 367.15 188.63 C368.24 186.99 369.87 184.09 370.41 183.18" stroke="#1010f4" stroke-width="1.0" fill="none" stroke-linejoin="round"/>
<text x="300.0" y="149.2" font-size="9.8" text-anchor="end" fill="#1a1a1a" textLength="12.2" lengthAdjust="spacingAndGlyphs">0.2</text>
<text x="300.0" y="174.0" font-size="9.8" text-anchor="end" fill="#1a1a1a" textLength="12.2" lengthAdjust="spacingAndGlyphs">0.1</text>
<text x="300.0" y="198.7" font-size="9.8" text-anchor="end" fill="#1a1a1a" textLength="5.0" lengthAdjust="spacingAndGlyphs">0</text>
<text x="302.4" y="206.9" font-size="9.8" text-anchor="middle" fill="#1a1a1a" textLength="15.1" lengthAdjust="spacingAndGlyphs">500</text>
<text x="333.3" y="206.9" font-size="9.8" text-anchor="middle" fill="#1a1a1a" textLength="19.0" lengthAdjust="spacingAndGlyphs">1000</text>
<text x="364.2" y="206.9" font-size="9.8" text-anchor="middle" fill="#1a1a1a" textLength="19.0" lengthAdjust="spacingAndGlyphs">1500</text>
<text transform="translate(283.6 194.0) rotate(-90)" font-size="9.8" fill="#111" stroke="#111" stroke-width="0.2" textLength="65.0" lengthAdjust="spacingAndGlyphs">Intensity (a.u)</text>
<rect x="301.8" y="223.0" width="69.0" height="68.2" fill="#fff" stroke="#2a2a2a" stroke-width="0.9"/>
<path d="M305.0 223.0 V291.2" stroke="#333" stroke-width="0.7" stroke-dasharray="1 1.4" fill="none"/>
<path d="M307.6 223.0 V291.2" stroke="#333" stroke-width="0.7" stroke-dasharray="1 1.4" fill="none"/>
<path d="M318.5 223.0 V291.2" stroke="#333" stroke-width="0.7" stroke-dasharray="1 1.4" fill="none"/>
<path d="M329.0 223.0 V291.2" stroke="#333" stroke-width="0.7" stroke-dasharray="1 1.4" fill="none"/>
<path d="M346.0 223.0 V291.2" stroke="#333" stroke-width="0.7" stroke-dasharray="1 1.4" fill="none"/>
<path d="M361.7 223.0 V291.2" stroke="#333" stroke-width="0.7" stroke-dasharray="1 1.4" fill="none"/>
<path d="M301.79 290.16 C302.00 290.31 302.66 290.85 303.09 291.03 C303.53 291.22 303.82 291.22 304.40 291.25 C304.98 291.29 306.07 291.62 306.58 291.25 C307.09 290.89 307.16 291.62 307.45 289.07 C307.74 286.53 307.81 281.09 308.32 276.00 C308.83 270.92 309.77 263.29 310.50 258.57 C311.23 253.85 311.95 250.95 312.68 247.68 C313.41 244.41 314.20 240.78 314.86 238.97 C315.51 237.15 316.13 236.97 316.60 236.79 C317.07 236.60 317.36 237.15 317.69 237.88 C318.02 238.60 318.24 241.25 318.56 241.14 C318.89 241.03 319.25 238.02 319.65 237.22 C320.05 236.42 320.31 236.24 320.96 236.35 C321.61 236.46 322.59 237.08 323.57 237.88 C324.55 238.67 325.82 240.13 326.84 241.14 C327.86 242.16 328.87 243.32 329.67 243.98 C330.47 244.63 330.91 245.54 331.63 245.07 C332.36 244.59 333.20 242.34 334.03 241.14 C334.87 239.95 335.85 238.60 336.64 237.88 C337.44 237.15 338.10 236.42 338.82 236.79 C339.55 237.15 340.28 238.24 341.00 240.05 C341.73 241.87 342.53 245.94 343.18 247.68 C343.83 249.42 344.38 249.97 344.92 250.51 C345.47 251.06 345.83 251.13 346.45 250.95 C347.07 250.77 348.01 249.60 348.63 249.42 C349.24 249.24 349.54 249.06 350.15 249.86 C350.77 250.66 351.60 251.86 352.33 254.22 C353.06 256.58 353.78 260.03 354.51 264.02 C355.24 268.01 356.03 274.19 356.69 278.18 C357.34 282.18 357.96 285.92 358.43 287.98 C358.90 290.05 359.16 290.09 359.52 290.60 C359.88 291.11 360.07 291.11 360.61 291.03 C361.15 290.96 361.88 290.85 362.79 290.16 C363.70 289.47 364.71 288.35 366.06 286.90 C367.40 285.44 370.05 282.36 370.85 281.45" stroke="#ff1010" stroke-width="0.9" fill="none" stroke-linejoin="round" transform="translate(-0.3 0.3)" opacity="0.75"/>
<path d="M301.79 290.16 C302.00 290.31 302.66 290.85 303.09 291.03 C303.53 291.22 303.82 291.22 304.40 291.25 C304.98 291.29 306.07 291.62 306.58 291.25 C307.09 290.89 307.16 291.62 307.45 289.07 C307.74 286.53 307.81 281.09 308.32 276.00 C308.83 270.92 309.77 263.29 310.50 258.57 C311.23 253.85 311.95 250.95 312.68 247.68 C313.41 244.41 314.20 240.78 314.86 238.97 C315.51 237.15 316.13 236.97 316.60 236.79 C317.07 236.60 317.36 237.15 317.69 237.88 C318.02 238.60 318.24 241.25 318.56 241.14 C318.89 241.03 319.25 238.02 319.65 237.22 C320.05 236.42 320.31 236.24 320.96 236.35 C321.61 236.46 322.59 237.08 323.57 237.88 C324.55 238.67 325.82 240.13 326.84 241.14 C327.86 242.16 328.87 243.32 329.67 243.98 C330.47 244.63 330.91 245.54 331.63 245.07 C332.36 244.59 333.20 242.34 334.03 241.14 C334.87 239.95 335.85 238.60 336.64 237.88 C337.44 237.15 338.10 236.42 338.82 236.79 C339.55 237.15 340.28 238.24 341.00 240.05 C341.73 241.87 342.53 245.94 343.18 247.68 C343.83 249.42 344.38 249.97 344.92 250.51 C345.47 251.06 345.83 251.13 346.45 250.95 C347.07 250.77 348.01 249.60 348.63 249.42 C349.24 249.24 349.54 249.06 350.15 249.86 C350.77 250.66 351.60 251.86 352.33 254.22 C353.06 256.58 353.78 260.03 354.51 264.02 C355.24 268.01 356.03 274.19 356.69 278.18 C357.34 282.18 357.96 285.92 358.43 287.98 C358.90 290.05 359.16 290.09 359.52 290.60 C359.88 291.11 360.07 291.11 360.61 291.03 C361.15 290.96 361.88 290.85 362.79 290.16 C363.70 289.47 364.71 288.35 366.06 286.90 C367.40 285.44 370.05 282.36 370.85 281.45" stroke="#1010f4" stroke-width="1.0" fill="none" stroke-linejoin="round"/>
<text x="299.4" y="244.5" font-size="9.8" text-anchor="end" fill="#1a1a1a" textLength="12.2" lengthAdjust="spacingAndGlyphs">0.2</text>
<text x="299.4" y="270.0" font-size="9.8" text-anchor="end" fill="#1a1a1a" textLength="12.2" lengthAdjust="spacingAndGlyphs">0.1</text>
<text x="299.4" y="295.0" font-size="9.8" text-anchor="end" fill="#1a1a1a" textLength="5.0" lengthAdjust="spacingAndGlyphs">0</text>
<text x="301.8" y="303.0" font-size="9.8" text-anchor="middle" fill="#1a1a1a" textLength="15.4" lengthAdjust="spacingAndGlyphs">500</text>
<text x="333.2" y="303.0" font-size="9.8" text-anchor="middle" fill="#1a1a1a" textLength="19.3" lengthAdjust="spacingAndGlyphs">1000</text>
<text x="364.5" y="303.0" font-size="9.8" text-anchor="middle" fill="#1a1a1a" textLength="19.3" lengthAdjust="spacingAndGlyphs">1500</text>
<text transform="translate(283.6 289.3) rotate(-90)" font-size="9.8" fill="#111" stroke="#111" stroke-width="0.2" textLength="62.8" lengthAdjust="spacingAndGlyphs">Intensity (a.u)</text>
<rect x="301.5" y="314.9" width="70.3" height="69.3" fill="#fff" stroke="#2a2a2a" stroke-width="0.9"/>
<path d="M304.6 314.9 V384.2" stroke="#333" stroke-width="0.7" stroke-dasharray="1 1.4" fill="none"/>
<path d="M307.2 314.9 V384.2" stroke="#333" stroke-width="0.7" stroke-dasharray="1 1.4" fill="none"/>
<path d="M318.2 314.9 V384.2" stroke="#333" stroke-width="0.7" stroke-dasharray="1 1.4" fill="none"/>
<path d="M328.9 314.9 V384.2" stroke="#333" stroke-width="0.7" stroke-dasharray="1 1.4" fill="none"/>
<path d="M346.4 314.9 V384.2" stroke="#333" stroke-width="0.7" stroke-dasharray="1 1.4" fill="none"/>
<path d="M362.1 314.9 V384.2" stroke="#333" stroke-width="0.7" stroke-dasharray="1 1.4" fill="none"/>
<path d="M301.47 384.32 C302.03 384.32 304.04 384.32 304.87 384.32 C305.70 384.32 306.00 384.71 306.44 384.32 C306.88 383.93 307.09 385.15 307.49 381.96 C307.88 378.78 308.14 371.06 308.80 365.21 C309.45 359.36 310.54 351.90 311.41 346.88 C312.29 341.87 313.29 337.85 314.03 335.10 C314.77 332.36 315.34 330.83 315.86 330.39 C316.39 329.96 316.78 331.05 317.17 332.49 C317.57 333.93 317.87 339.03 318.22 339.03 C318.57 339.03 318.87 333.88 319.27 332.49 C319.66 331.09 319.92 330.35 320.58 330.65 C321.23 330.96 322.10 332.57 323.19 334.32 C324.28 336.06 326.03 339.55 327.12 341.13 C328.21 342.70 329.00 343.22 329.74 343.74 C330.48 344.27 330.83 345.05 331.57 344.27 C332.31 343.48 333.27 340.99 334.19 339.03 C335.10 337.07 336.24 333.93 337.07 332.49 C337.90 331.05 338.51 330.39 339.16 330.39 C339.82 330.39 340.47 330.83 340.99 332.49 C341.52 334.14 341.78 338.16 342.30 340.34 C342.83 342.52 343.53 344.49 344.14 345.58 C344.75 346.67 345.31 347.02 345.97 346.88 C346.62 346.75 347.41 345.23 348.06 344.79 C348.72 344.35 349.24 343.70 349.90 344.27 C350.55 344.83 351.20 345.58 351.99 348.19 C352.77 350.81 353.82 356.05 354.61 359.97 C355.39 363.90 356.05 368.13 356.70 371.75 C357.36 375.38 358.05 379.69 358.53 381.70 C359.01 383.71 359.19 383.36 359.58 383.80 C359.97 384.23 360.19 384.28 360.89 384.32 C361.59 384.36 362.64 384.62 363.77 384.06 C364.90 383.49 366.30 382.31 367.70 380.92 C369.09 379.52 371.40 376.55 372.15 375.68" stroke="#ff1010" stroke-width="0.9" fill="none" stroke-linejoin="round" transform="translate(-0.3 0.3)" opacity="0.75"/>
<path d="M301.47 384.32 C302.03 384.32 304.04 384.32 304.87 384.32 C305.70 384.32 306.00 384.71 306.44 384.32 C306.88 383.93 307.09 385.15 307.49 381.96 C307.88 378.78 308.14 371.06 308.80 365.21 C309.45 359.36 310.54 351.90 311.41 346.88 C312.29 341.87 313.29 337.85 314.03 335.10 C314.77 332.36 315.34 330.83 315.86 330.39 C316.39 329.96 316.78 331.05 317.17 332.49 C317.57 333.93 317.87 339.03 318.22 339.03 C318.57 339.03 318.87 333.88 319.27 332.49 C319.66 331.09 319.92 330.35 320.58 330.65 C321.23 330.96 322.10 332.57 323.19 334.32 C324.28 336.06 326.03 339.55 327.12 341.13 C328.21 342.70 329.00 343.22 329.74 343.74 C330.48 344.27 330.83 345.05 331.57 344.27 C332.31 343.48 333.27 340.99 334.19 339.03 C335.10 337.07 336.24 333.93 337.07 332.49 C337.90 331.05 338.51 330.39 339.16 330.39 C339.82 330.39 340.47 330.83 340.99 332.49 C341.52 334.14 341.78 338.16 342.30 340.34 C342.83 342.52 343.53 344.49 344.14 345.58 C344.75 346.67 345.31 347.02 345.97 346.88 C346.62 346.75 347.41 345.23 348.06 344.79 C348.72 344.35 349.24 343.70 349.90 344.27 C350.55 344.83 351.20 345.58 351.99 348.19 C352.77 350.81 353.82 356.05 354.61 359.97 C355.39 363.90 356.05 368.13 356.70 371.75 C357.36 375.38 358.05 379.69 358.53 381.70 C359.01 383.71 359.19 383.36 359.58 383.80 C359.97 384.23 360.19 384.28 360.89 384.32 C361.59 384.36 362.64 384.62 363.77 384.06 C364.90 383.49 366.30 382.31 367.70 380.92 C369.09 379.52 371.40 376.55 372.15 375.68" stroke="#1010f4" stroke-width="1.0" fill="none" stroke-linejoin="round"/>
<text x="299.1" y="336.0" font-size="9.8" text-anchor="end" fill="#1a1a1a" textLength="12.2" lengthAdjust="spacingAndGlyphs">0.2</text>
<text x="299.1" y="362.1" font-size="9.8" text-anchor="end" fill="#1a1a1a" textLength="12.2" lengthAdjust="spacingAndGlyphs">0.1</text>
<text x="299.1" y="387.7" font-size="9.8" text-anchor="end" fill="#1a1a1a" textLength="5.0" lengthAdjust="spacingAndGlyphs">0</text>
<text x="301.5" y="395.9" font-size="9.8" text-anchor="middle" fill="#1a1a1a" textLength="15.6" lengthAdjust="spacingAndGlyphs">500</text>
<text x="333.5" y="395.9" font-size="9.8" text-anchor="middle" fill="#1a1a1a" textLength="19.7" lengthAdjust="spacingAndGlyphs">1000</text>
<text x="365.4" y="395.9" font-size="9.8" text-anchor="middle" fill="#1a1a1a" textLength="19.7" lengthAdjust="spacingAndGlyphs">1500</text>
<text transform="translate(283.6 378.7) rotate(-90)" font-size="9.8" fill="#111" stroke="#111" stroke-width="0.2" textLength="62.7" lengthAdjust="spacingAndGlyphs">Intensity (a.u)</text>
<text x="297.5" y="409.2" font-size="10.2" text-anchor="start" fill="#111" textLength="75.9" lengthAdjust="spacingAndGlyphs" stroke="#111" stroke-width="0.2">Wavelength (nm)</text>
<rect x="399.6" y="49.2" width="31.4" height="13.1" rx="2.4" fill="#ff0000"/>
<path d="M397.8 56.0 H401.0" stroke="#000" stroke-width="1.6"/>
<path d="M422.7 55.7 H455.4 M423.2 53.5 V57.900000000000006 M454.9 53.5 V57.900000000000006" stroke="#000" stroke-width="1.7" fill="none"/>
<rect x="399.6" y="73" width="29.2" height="13.7" rx="2.4" fill="#ffc000"/>
<path d="M397.8 80.39999999999999 H401.0" stroke="#000" stroke-width="1.6"/>
<path d="M412.5 80.1 H450.4 M413.0 77.89999999999999 V82.3 M449.9 77.89999999999999 V82.3" stroke="#000" stroke-width="1.7" fill="none"/>
<path d="M399.6 39.5 V100.1 H517.3" stroke="#222" stroke-width="1.0" fill="none"/>
<path d="M399.6 35.5 L397.3 40.5 L401.90000000000003 40.5Z" fill="#000"/>
<path d="M521.3 100.1 L516.3 97.8 L516.3 102.39999999999999Z" fill="#000"/>
<path d="M455.9 96.5 V103.7" stroke="#222" stroke-width="1"/>
<text x="456.5" y="114" font-size="10" text-anchor="middle" fill="#222" textLength="12.2" lengthAdjust="spacingAndGlyphs">50</text>
<path d="M509.3 96.5 V103.7" stroke="#222" stroke-width="1"/>
<text x="510.8" y="114" font-size="10" text-anchor="middle" fill="#222" textLength="17.4" lengthAdjust="spacingAndGlyphs">100</text>
<rect x="561.7" y="59.8" width="55.6" height="14.6" rx="2.4" fill="#9dc3e6"/>
<path d="M559.9000000000001 67.1 H563.1" stroke="#000" stroke-width="1.6"/>
<path d="M602.9 66.8 H620.9 M603.4 64.6 V69.0 M620.4 64.6 V69.0" stroke="#000" stroke-width="1.7" fill="none"/>
<path d="M561.7 39.6 V100.4 H679.9" stroke="#222" stroke-width="1.0" fill="none"/>
<path d="M561.7 35.6 L559.4000000000001 40.6 L564.0 40.6Z" fill="#000"/>
<path d="M683.9 100.4 L678.9 98.10000000000001 L678.9 102.7Z" fill="#000"/>
<path d="M618.4 96.8 V104.5" stroke="#222" stroke-width="1"/>
<text x="619.0" y="114.5" font-size="10" text-anchor="middle" fill="#222" textLength="12.2" lengthAdjust="spacingAndGlyphs">15</text>
<path d="M670 96.8 V104.5" stroke="#222" stroke-width="1"/>
<text x="670.6" y="114.5" font-size="10" text-anchor="middle" fill="#222" textLength="12.2" lengthAdjust="spacingAndGlyphs">30</text>
<rect x="401.3" y="141.4" width="33.4" height="13.9" rx="2.4" fill="#ff0000"/>
<path d="M399.5 149.0 H402.7" stroke="#000" stroke-width="1.6"/>
<path d="M426 148.7 H511.5 M426.5 146.5 V150.89999999999998 M511.0 146.5 V150.89999999999998" stroke="#000" stroke-width="1.7" fill="none"/>
<rect x="401.3" y="165.8" width="6.6" height="14.2" rx="2.4" fill="#ffc000"/>
<path d="M399.5 173.3 H402.7" stroke="#000" stroke-width="1.6"/>
<path d="M400.5 173 H421.6 M401.0 170.8 V175.2 M421.1 170.8 V175.2" stroke="#000" stroke-width="1.7" fill="none"/>
<path d="M401.3 131.6 V192.4 H518.4" stroke="#222" stroke-width="1.0" fill="none"/>
<path d="M401.3 127.6 L399.0 132.6 L403.6 132.6Z" fill="#000"/>
<path d="M522.4 192.4 L517.4 190.1 L517.4 194.70000000000002Z" fill="#000"/>
<path d="M457.6 188.7 V195.9" stroke="#222" stroke-width="1"/>
<text x="458.20000000000005" y="206.5" font-size="10" text-anchor="middle" fill="#222" textLength="12.2" lengthAdjust="spacingAndGlyphs">50</text>
<path d="M510.4 188.7 V195.9" stroke="#222" stroke-width="1"/>
<text x="511.9" y="206.5" font-size="10" text-anchor="middle" fill="#222" textLength="17.4" lengthAdjust="spacingAndGlyphs">100</text>
<rect x="561.7" y="152.5" width="63.4" height="13.9" rx="2.4" fill="#9dc3e6"/>
<path d="M559.9000000000001 159.5 H563.1" stroke="#000" stroke-width="1.6"/>
<path d="M615.7 159.2 H636.6 M616.2 157.0 V161.39999999999998 M636.1 157.0 V161.39999999999998" stroke="#000" stroke-width="1.7" fill="none"/>
<path d="M561.7 132.5 V192.9 H679.4" stroke="#222" stroke-width="1.0" fill="none"/>
<path d="M561.7 128.5 L559.4000000000001 133.5 L564.0 133.5Z" fill="#000"/>
<path d="M683.4 192.9 L678.4 190.6 L678.4 195.20000000000002Z" fill="#000"/>
<path d="M618.4 189 V196.9" stroke="#222" stroke-width="1"/>
<text x="619.0" y="207" font-size="10" text-anchor="middle" fill="#222" textLength="12.2" lengthAdjust="spacingAndGlyphs">15</text>
<path d="M670.4 189 V196.9" stroke="#222" stroke-width="1"/>
<text x="671.0" y="207" font-size="10" text-anchor="middle" fill="#222" textLength="12.2" lengthAdjust="spacingAndGlyphs">30</text>
<rect x="400.9" y="234.4" width="22.2" height="13.8" rx="2.4" fill="#ff0000"/>
<path d="M399.09999999999997 241.3 H402.29999999999995" stroke="#000" stroke-width="1.6"/>
<path d="M421.2 241 H426 M421.7 238.8 V243.2 M425.5 238.8 V243.2" stroke="#000" stroke-width="1.7" fill="none"/>
<path d="M399.1 265 H402.3" stroke="#000" stroke-width="1.6"/>
<path d="M400.9 224.5 V286.3 H518.4" stroke="#222" stroke-width="1.0" fill="none"/>
<path d="M400.9 220.5 L398.59999999999997 225.5 L403.2 225.5Z" fill="#000"/>
<path d="M522.4 286.3 L517.4 284.0 L517.4 288.6Z" fill="#000"/>
<path d="M457.2 282 V289.6" stroke="#222" stroke-width="1"/>
<text x="457.8" y="300" font-size="10" text-anchor="middle" fill="#222" textLength="12.2" lengthAdjust="spacingAndGlyphs">50</text>
<path d="M510.6 282 V289.6" stroke="#222" stroke-width="1"/>
<text x="512.1" y="300" font-size="10" text-anchor="middle" fill="#222" textLength="17.4" lengthAdjust="spacingAndGlyphs">100</text>
<rect x="562.3" y="245.9" width="65.7" height="15.0" rx="2.4" fill="#9dc3e6"/>
<path d="M560.5 253.4 H563.6999999999999" stroke="#000" stroke-width="1.6"/>
<path d="M626.3 253.1 H629.6 M626.8 250.9 V255.29999999999998 M629.1 250.9 V255.29999999999998" stroke="#000" stroke-width="1.7" fill="none"/>
<path d="M562.3 225.2 V286.7 H680.6" stroke="#222" stroke-width="1.0" fill="none"/>
<path d="M562.3 221.2 L560.0 226.2 L564.5999999999999 226.2Z" fill="#000"/>
<path d="M684.6 286.7 L679.6 284.4 L679.6 289.0Z" fill="#000"/>
<path d="M619.5 282.9 V290.7" stroke="#222" stroke-width="1"/>
<text x="620.1" y="300.4" font-size="10" text-anchor="middle" fill="#222" textLength="12.2" lengthAdjust="spacingAndGlyphs">15</text>
<path d="M671.3 282.9 V290.7" stroke="#222" stroke-width="1"/>
<text x="671.9" y="300.4" font-size="10" text-anchor="middle" fill="#222" textLength="12.2" lengthAdjust="spacingAndGlyphs">30</text>
<rect x="400.9" y="328.7" width="54.7" height="14.0" rx="2.4" fill="#ff0000"/>
<path d="M399.09999999999997 335.8 H402.29999999999995" stroke="#000" stroke-width="1.6"/>
<path d="M453.7 335.5 H458.4 M454.2 333.3 V337.7 M457.9 333.3 V337.7" stroke="#000" stroke-width="1.7" fill="none"/>
<rect x="400.9" y="353.3" width="14.5" height="13.7" rx="2.4" fill="#ffc000"/>
<path d="M399.09999999999997 360.5 H402.29999999999995" stroke="#000" stroke-width="1.6"/>
<path d="M414.2 360.2 H416.2 M414.7 358.0 V362.4 M415.7 358.0 V362.4" stroke="#000" stroke-width="1.7" fill="none"/>
<path d="M400.9 319 V380.45 H519.2" stroke="#222" stroke-width="1.0" fill="none"/>
<path d="M400.9 315 L398.59999999999997 320 L403.2 320Z" fill="#000"/>
<path d="M523.2 380.45 L518.2 378.15 L518.2 382.75Z" fill="#000"/>
<path d="M457.5 376 V384" stroke="#222" stroke-width="1"/>
<text x="458.1" y="394.3" font-size="10" text-anchor="middle" fill="#222" textLength="12.2" lengthAdjust="spacingAndGlyphs">50</text>
<path d="M510.7 376 V384" stroke="#222" stroke-width="1"/>
<text x="512.2" y="394.3" font-size="10" text-anchor="middle" fill="#222" textLength="17.4" lengthAdjust="spacingAndGlyphs">100</text>
<rect x="563.7" y="340.5" width="49.2" height="13.7" rx="2.4" fill="#9dc3e6"/>
<path d="M561.9000000000001 347.7 H565.1" stroke="#000" stroke-width="1.6"/>
<path d="M611.3 347.4 H614.6 M611.8 345.2 V349.59999999999997 M614.1 345.2 V349.59999999999997" stroke="#000" stroke-width="1.7" fill="none"/>
<path d="M563.7 319 V381.0 H681.5" stroke="#222" stroke-width="1.0" fill="none"/>
<path d="M563.7 315 L561.4000000000001 320 L566.0 320Z" fill="#000"/>
<path d="M685.5 381.0 L680.5 378.7 L680.5 383.3Z" fill="#000"/>
<path d="M620.6 376.6 V384.8" stroke="#222" stroke-width="1"/>
<text x="621.2" y="394.5" font-size="10" text-anchor="middle" fill="#222" textLength="12.2" lengthAdjust="spacingAndGlyphs">15</text>
<path d="M672.45 376.6 V384.8" stroke="#222" stroke-width="1"/>
<text x="673.0500000000001" y="394.5" font-size="10" text-anchor="middle" fill="#222" textLength="12.2" lengthAdjust="spacingAndGlyphs">30</text>
</svg>
</body></html>
